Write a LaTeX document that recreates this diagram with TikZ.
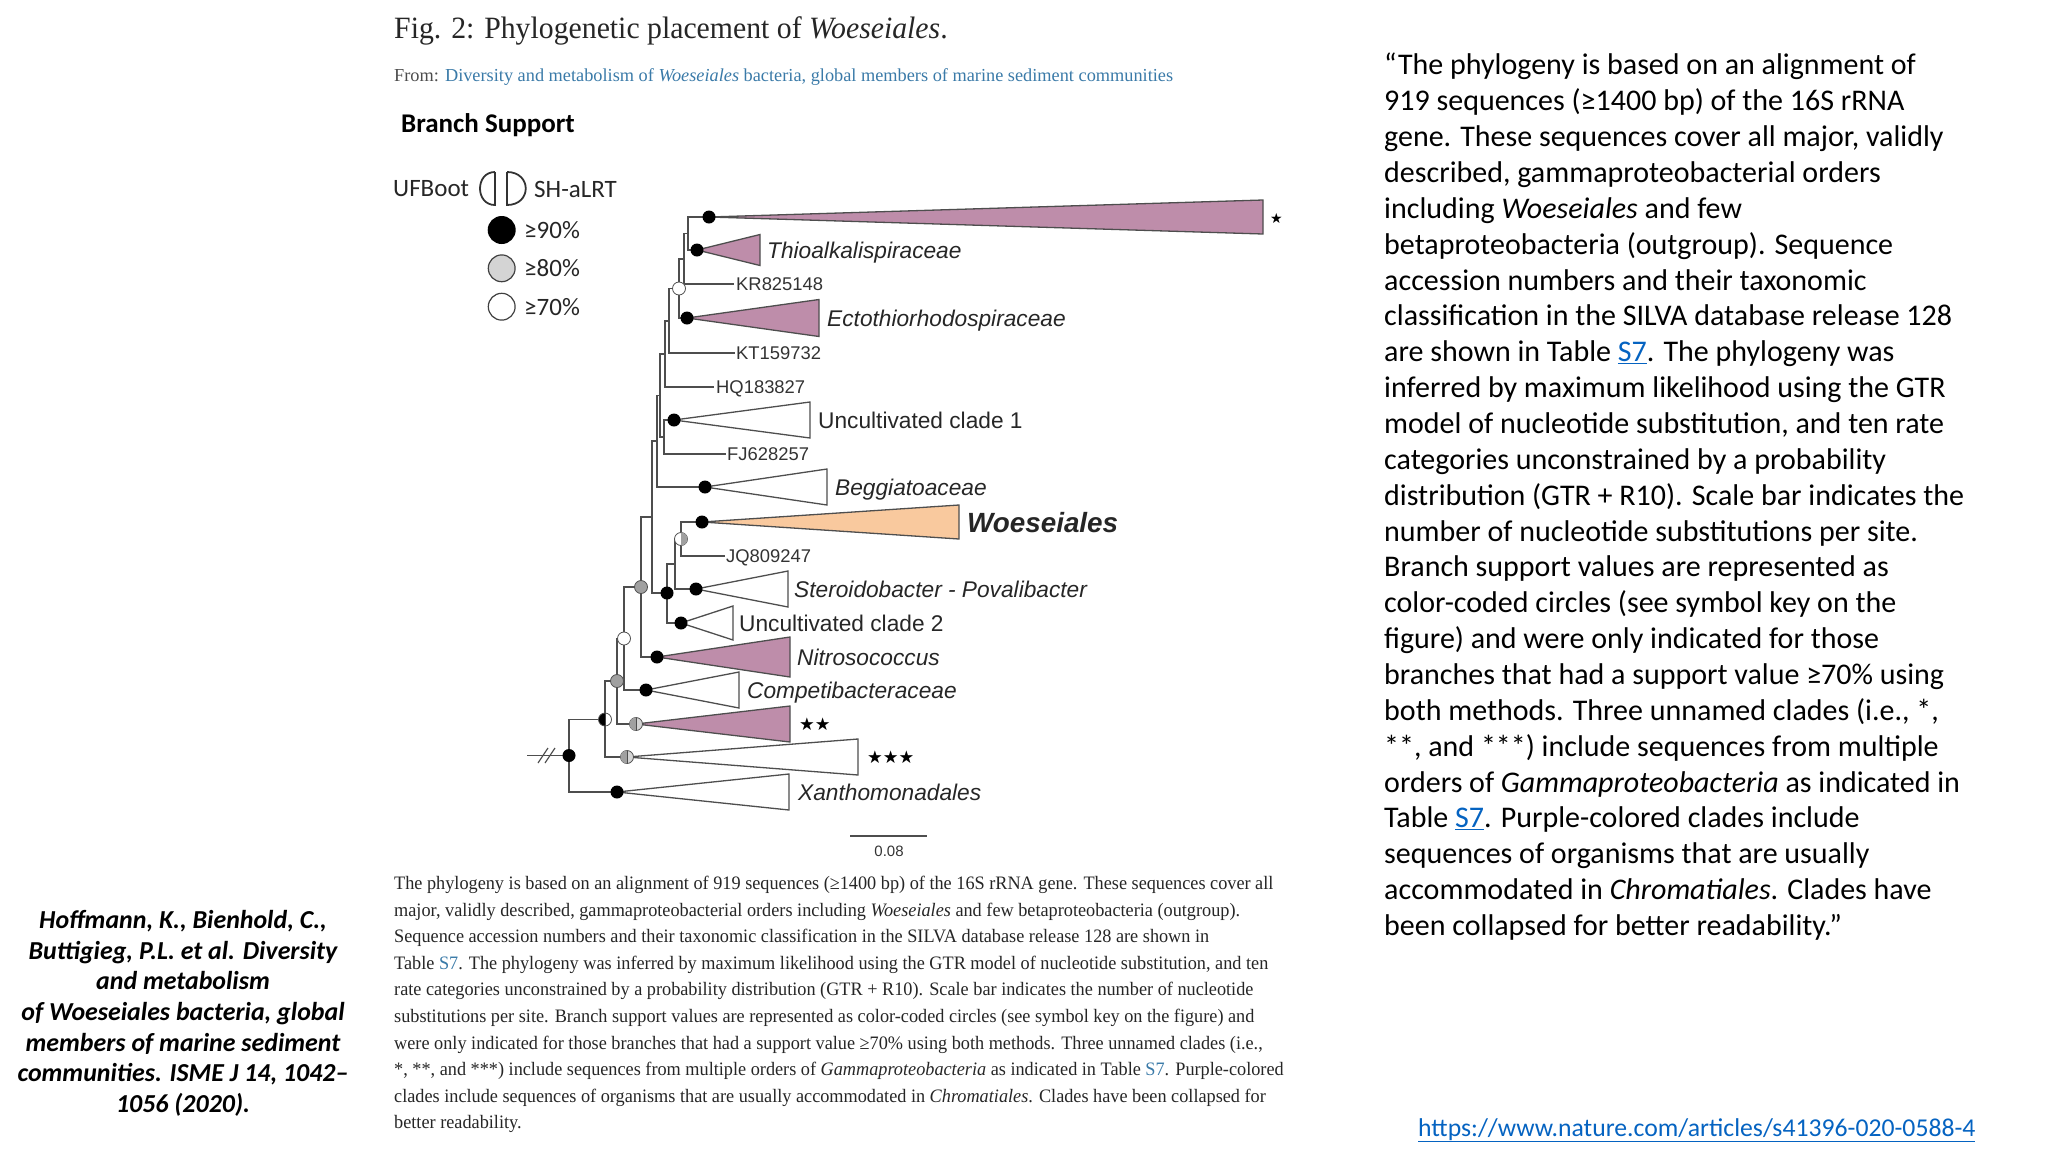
\documentclass[tikz,border=0pt]{standalone}
\usepackage{fontspec}
\setmainfont{Carlito}
\newfontfamily\arialfont{Liberation Sans}
\newfontfamily\figserif[FakeStretch=0.96]{Liberation Serif}
\newfontfamily\plainserif{Liberation Serif}
\newfontfamily\starfont{DejaVu Sans}
\definecolor{treegray}{RGB}{78,78,78}
\definecolor{cladepurple}{RGB}{190,141,170}
\definecolor{cladeorange}{RGB}{249,201,158}
\definecolor{supgray}{RGB}{160,160,160}
\definecolor{suplight}{RGB}{212,212,212}
\definecolor{natblue}{RGB}{58,122,168}
\definecolor{urlblue}{RGB}{5,99,193}

\begin{document}
\begin{tikzpicture}[x=1pt,y=-1pt,
  branch/.style={draw=treegray,line width=1.4pt},
  clade/.style={draw=treegray,line width=1.3pt},
  taxon/.style={anchor=base west,inner sep=0pt,text=black!85,font=\arialfont\itshape\fontsize{22.7}{26}\selectfont},
  plainlab/.style={taxon,font=\arialfont\fontsize{22.7}{26}\selectfont},
  acclab/.style={anchor=base west,inner sep=0pt,text=black!80,font=\arialfont\fontsize{18.4}{20}\selectfont},
  starlab/.style={anchor=west,inner sep=0pt,font=\starfont\fontsize{17.5}{20}\selectfont},
  legtext/.style={anchor=west,inner sep=0pt,text=black!85,font=\fontsize{25}{28}\selectfont}]
\useasboundingbox (0,0) rectangle (2048,1152);

\node[anchor=base west,inner sep=0pt,font=\figserif\fontsize{31}{34}\selectfont,text=black!85] (title) at (394,38)
  {Fig. 2: Phylogenetic placement of \textit{Woeseiales}.};
\node[anchor=base west,inner sep=0pt,font=\plainserif\fontsize{18.3}{20}\selectfont] (from) at (394,81)
  {\textcolor{black!70}{From:} \textcolor{natblue}{Diversity and metabolism of \textit{Woeseiales} bacteria, global members of marine sediment communities}};
\node[anchor=base west,inner sep=0pt,font=\bfseries\fontsize{27}{30}\selectfont] (bsup) at (401,132) {Branch Support};

\node[legtext] (ufb) at (393,189) {UFBoot};
\node[legtext] (shl) at (534,189) {SH-aLRT};
\draw[line width=1.8pt,black!80] (495,172) -- (495,205) .. controls (475,205) and (475,172) .. (495,172);
\draw[line width=1.8pt,black!80] (507,172) -- (507,205) .. controls (532,205) and (532,172) .. (507,172);
\fill[black] (501.7,230) circle (14pt);
\filldraw[fill=suplight,draw=black!75,line width=1.2pt] (501.7,268.3) circle (13.4pt);
\filldraw[fill=white,draw=black!75,line width=1.2pt] (501.7,306.7) circle (13.4pt);
\node[legtext] (l90) at (524,230) {≥90\%};
\node[legtext] (l80) at (524,268.3) {≥80\%};
\node[legtext] (l70) at (524,306.7) {≥70\%};

\coordinate (n1) at (688,233.5);
\coordinate (n2) at (684,259);
\coordinate (n3) at (679,288.5);
\coordinate (n4) at (669,321);
\coordinate (n5) at (665,354);
\coordinate (n6) at (664,437);
\coordinate (n7) at (660,395.5);
\coordinate (n8) at (657,441);
\coordinate (nu) at (652,517);
\coordinate (nw) at (681,539);
\coordinate (ns) at (675,564);
\coordinate (ng) at (667,593);
\coordinate (nq) at (641,587);
\coordinate (np) at (624,638.5);
\coordinate (nr) at (617,681);
\coordinate (nx) at (605,719.5);
\coordinate (root) at (569,755.5);
\coordinate (stem) at (527,755.5);

\coordinate (dstar) at (709,217);
\coordinate (dthio) at (697,250);
\coordinate (kr) at (734,284);
\coordinate (decto) at (687,318);
\coordinate (kt) at (735,353);
\coordinate (hq) at (714,387);
\coordinate (dunca) at (674,420);
\coordinate (fj) at (726,454);
\coordinate (dbegg) at (705,487);
\coordinate (dwoes) at (702,522);
\coordinate (jq) at (725,556);
\coordinate (dster) at (696,589);
\coordinate (duncb) at (681,623);
\coordinate (dnitro) at (657,657);
\coordinate (dcomp) at (646,690);
\coordinate (dtwo) at (636,724);
\coordinate (dthree) at (627,757);
\coordinate (dxan) at (617,792);

\draw[branch] (n1) |- (dstar) (n1) |- (dthio)
  (n2) |- (n1) (n2) |- (kr)
  (n3) |- (n2) (n3) |- (decto)
  (n4) |- (n3) (n4) |- (kt)
  (n5) |- (n4) (n5) |- (hq)
  (n6) |- (dunca) (n6) |- (fj)
  (n7) |- (n5) (n7) |- (n6)
  (n8) |- (n7) (n8) |- (dbegg)
  (nu) |- (n8) (nu) |- (ng)
  (nw) |- (dwoes) (nw) |- (jq)
  (ns) |- (nw) (ns) |- (dster)
  (ng) |- (ns) (ng) |- (duncb)
  (nq) |- (nu) (nq) |- (dnitro)
  (np) |- (nq) (np) |- (dcomp)
  (nr) |- (np) (nr) |- (dtwo)
  (nx) |- (nr) (nx) |- (dthree)
  (root) |- (nx) (root) |- (dxan)
  (stem) -- (root);
\draw[branch,line width=1.2pt] (538,763) -- (548,748) (545,763) -- (555,748);

\filldraw[clade,fill=cladepurple] (dstar) -- (1263,200) -- (1263,234) -- cycle;
\filldraw[clade,fill=cladepurple] (dthio) -- (760,234.5) -- (760,265.5) -- cycle;
\filldraw[clade,fill=cladepurple] (decto) -- (819,299.5) -- (819,336.5) -- cycle;
\filldraw[clade,fill=white] (dunca) -- (810,402) -- (810,438) -- cycle;
\filldraw[clade,fill=white] (dbegg) -- (827,469) -- (827,505) -- cycle;
\filldraw[clade,fill=cladeorange] (dwoes) -- (959,505) -- (959,539) -- cycle;
\filldraw[clade,fill=white] (dster) -- (788,571) -- (788,607) -- cycle;
\filldraw[clade,fill=white] (duncb) -- (733,606) -- (733,640) -- cycle;
\filldraw[clade,fill=cladepurple] (dnitro) -- (790,637) -- (790,677) -- cycle;
\filldraw[clade,fill=white] (dcomp) -- (739,672) -- (739,708) -- cycle;
\filldraw[clade,fill=cladepurple] (dtwo) -- (790,706) -- (790,742) -- cycle;
\filldraw[clade,fill=white] (dthree) -- (858,739) -- (858,775) -- cycle;
\filldraw[clade,fill=white] (dxan) -- (789,774) -- (789,810) -- cycle;

\foreach \d in {dstar,dthio,decto,dunca,dbegg,dwoes,dster,duncb,dnitro,dcomp,dxan,ng,root}
  \fill[black] (\d) circle (6.5pt);
\filldraw[fill=white,draw=treegray,line width=0.8pt] (n3) circle (6.5pt);
\filldraw[fill=white,draw=treegray,line width=0.8pt] (np) circle (6.5pt);
\filldraw[fill=supgray,draw=treegray,line width=0.8pt] (nq) circle (6.5pt);
\filldraw[fill=supgray,draw=treegray,line width=0.8pt] (nr) circle (6.5pt);
\filldraw[fill=white,draw=treegray,line width=0.8pt] (nw) circle (6.5pt);
\fill[supgray] (nw) ++(0pt,-6.5pt) arc (-90:90:6.5pt) -- cycle;
\fill[black] (nx) ++(0pt,6.5pt) arc (90:270:6.5pt) -- cycle;
\draw[treegray,line width=0.8pt] (nx) circle (6.5pt);
\filldraw[fill=suplight,draw=treegray,line width=0.8pt] (dtwo) circle (6.5pt);
\fill[supgray] (dtwo) ++(0pt,6.5pt) arc (90:270:6.5pt) -- cycle;
\draw[treegray,line width=0.8pt] (dtwo) ++(0pt,6.5pt) -- ++(0pt,-13pt);
\filldraw[fill=suplight,draw=treegray,line width=0.8pt] (dthree) circle (6.5pt);
\fill[supgray] (dthree) ++(0pt,6.5pt) arc (90:270:6.5pt) -- cycle;
\draw[treegray,line width=0.8pt] (dthree) ++(0pt,6.5pt) -- ++(0pt,-13pt);

\node[starlab,font=\starfont\fontsize{14}{16}\selectfont] (sone) at (1270,218) {★};
\node[taxon] (lthio) at (767,258) {Thioalkalispiraceae};
\node[acclab] (lkr) at (736,290.5) {KR825148};
\node[taxon] (lecto) at (827,326) {Ectothiorhodospiraceae};
\node[acclab] (lkt) at (736,359.5) {KT159732};
\node[acclab] (lhq) at (716,393.5) {HQ183827};
\node[plainlab] (lunca) at (818,428) {Uncultivated clade 1};
\node[acclab] (lfj) at (727,460.5) {FJ628257};
\node[taxon] (lbegg) at (835,495) {Beggiatoaceae};
\node[taxon,font=\arialfont\bfseries\itshape\fontsize{27.8}{30}\selectfont] (lwoes) at (967,532) {Woeseiales};
\node[acclab] (ljq) at (726,562.5) {JQ809247};
\node[taxon] (lster) at (794,597) {Steroidobacter - Povalibacter};
\node[plainlab] (luncb) at (739,631) {Uncultivated clade 2};
\node[taxon] (lnitro) at (797,665) {Nitrosococcus};
\node[taxon] (lcomp) at (747,698) {Competibacteraceae};
\node[starlab] (stwo) at (799,724) {★★};
\node[starlab] (sthree) at (867,757) {★★★};
\node[taxon] (lxan) at (798,800) {Xanthomonadales};

\coordinate (sbl) at (850,836);
\coordinate (sbr) at (927,836);
\draw[branch,line width=1.2pt] (sbl) -- (sbr);
\node[inner sep=0pt,font=\arialfont\fontsize{15}{18}\selectfont,text=black!80] (sblab) at (889,851) {0.08};

\node[anchor=north west,inner sep=0pt,align=left,text=black!85,font=\figserif\fontsize{19}{26.6}\selectfont] (caption) at (394,876)
  {The phylogeny is based on an alignment of 919 sequences (≥1400 bp) of the 16S rRNA gene. These sequences cover all\\
   major, validly described, gammaproteobacterial orders including \textit{Woeseiales} and few betaproteobacteria (outgroup).\\
   Sequence accession numbers and their taxonomic classification in the SILVA database release 128 are shown in\\
   Table \textcolor{natblue}{S7}. The phylogeny was inferred by maximum likelihood using the GTR model of nucleotide substitution, and ten\\
   rate categories unconstrained by a probability distribution (GTR + R10). Scale bar indicates the number of nucleotide\\
   substitutions per site. Branch support values are represented as color-coded circles (see symbol key on the figure) and\\
   were only indicated for those branches that had a support value ≥70\% using both methods. Three unnamed clades (i.e.,\\
   *, **, and ***) include sequences from multiple orders of \textit{Gammaproteobacteria} as indicated in Table \textcolor{natblue}{S7}. Purple-colored\\
   clades include sequences of organisms that are usually accommodated in \textit{Chromatiales}. Clades have been collapsed for\\
   better readability.};

\node[anchor=north west,inner sep=0pt,align=left,font=\fontsize{30}{35.86}\selectfont] (quote) at (1384,53)
  {“The phylogeny is based on an alignment of\\
   919 sequences (≥1400 bp) of the 16S rRNA\\
   gene. These sequences cover all major, validly\\
   described, gammaproteobacterial orders\\
   including \textit{Woeseiales} and few\\
   betaproteobacteria (outgroup). Sequence\\
   accession numbers and their taxonomic\\
   classification in the SILVA database release 128\\
   are shown in Table {\color{urlblue}\underline{S7}}. The phylogeny was\\
   inferred by maximum likelihood using the GTR\\
   model of nucleotide substitution, and ten rate\\
   categories unconstrained by a probability\\
   distribution (GTR + R10). Scale bar indicates the\\
   number of nucleotide substitutions per site.\\
   Branch support values are represented as\\
   color-coded circles (see symbol key on the\\
   figure) and were only indicated for those\\
   branches that had a support value ≥70\% using\\
   both methods. Three unnamed clades (i.e., *,\\
   **, and ***) include sequences from multiple\\
   orders of \textit{Gammaproteobacteria} as indicated in\\
   Table {\color{urlblue}\underline{S7}}. Purple-colored clades include\\
   sequences of organisms that are usually\\
   accommodated in \textit{Chromatiales}. Clades have\\
   been collapsed for better readability.”};

\node[anchor=north,inner sep=0pt,align=center,font=\bfseries\itshape\fontsize{25.9}{30.7}\selectfont] (cite) at (183,910)
  {Hoffmann, K., Bienhold, C.,\\
   Buttigieg, P.L. et al. Diversity\\
   and metabolism\\
   of Woeseiales bacteria, global\\
   members of marine sediment\\
   communities. ISME J 14, 1042–\\
   1056 (2020).};

\node[anchor=base west,inner sep=0pt,font=\fontsize{25.7}{28}\selectfont,text=urlblue] (url) at (1418,1136)
  {\underline{https://www.nature.com/articles/s41396-020-0588-4}};
\end{tikzpicture}
\end{document}
